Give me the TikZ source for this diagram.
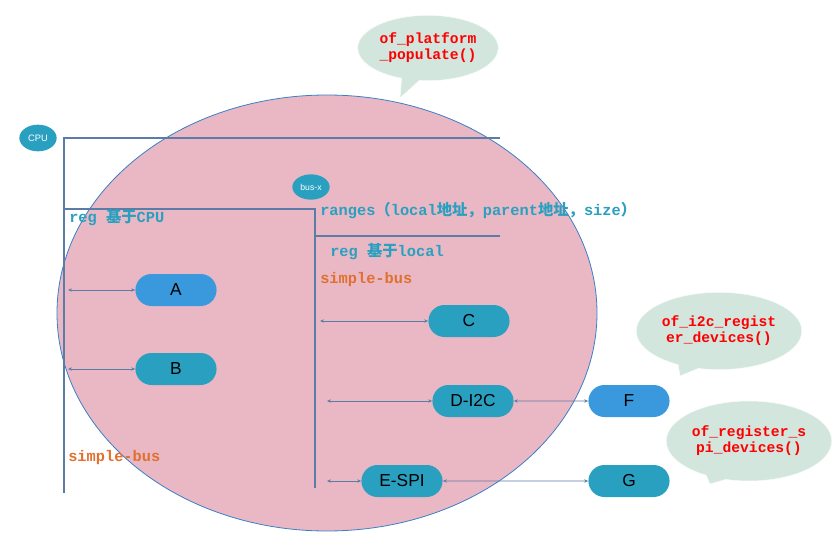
\documentclass[tikz,border=0pt]{standalone}
\usepackage{fontspec}
\setmainfont{Liberation Sans}
\newfontfamily\monof{Liberation Mono}
\newfontfamily\cjk{Noto Sans CJK SC}
\usetikzlibrary{shapes.callouts,shapes.geometric,shapes.misc,arrows.meta}
\definecolor{teal1}{HTML}{2AA0C0}
\definecolor{blue1}{HTML}{3A98DC}
\definecolor{pinkf}{HTML}{EAB8C4}
\definecolor{ringc}{HTML}{3A7FC8}
\definecolor{linec}{HTML}{5C7CA8}
\definecolor{orng}{HTML}{E07030}
\definecolor{bubf}{HTML}{D2E6DE}
\begin{document}
\begin{tikzpicture}[x=0.75pt,y=-0.75pt,
  dev/.style={rounded rectangle,minimum width=67.5pt,minimum height=24pt,text=black,font=\fontsize{13}{13}\selectfont},
  bus/.style={draw=linec,line width=0.9pt},
  con/.style={draw=linec,line width=0.5pt,{Stealth[length=3pt,width=2.5pt]}-{Stealth[length=3pt,width=2.5pt]}},
  lbl/.style={anchor=west,text=teal1,font=\monof\bfseries\fontsize{11.5}{12}\selectfont,inner sep=0pt},
  org/.style={anchor=west,text=orng,font=\monof\bfseries\fontsize{11.5}{12}\selectfont,inner sep=0pt},
  bub/.style={ellipse callout,fill=bubf,draw=white!85!bubf,align=center,text=red,font=\monof\bfseries\fontsize{11}{12}\selectfont,inner sep=1pt}]
\useasboundingbox (0,0) rectangle (836,542);
\fill[pinkf,draw=ringc,line width=0.6pt] (327,313) ellipse [x radius=270,y radius=218];
\node[ellipse,fill=teal1,text=white,font=\fontsize{7}{7}\selectfont,minimum width=28pt,minimum height=20pt,inner sep=0pt] (cpu) at (38,138) {CPU};
\node[ellipse,fill=teal1,text=white,font=\fontsize{6.5}{7}\selectfont,minimum width=28pt,minimum height=19pt,inner sep=0pt] (busx) at (311,187) {bus-x};
\coordinate (t1) at (64,138); \coordinate (t2) at (500,138); \coordinate (t3) at (64,493);
\draw[bus] (t2)--(t1)--(t3);
\coordinate (u1) at (64,209); \coordinate (u2) at (315,209); \coordinate (u3) at (315,488);
\draw[bus] (u1)--(u2)--(u3);
\coordinate (v1) at (315,236); \coordinate (v2) at (500,236);
\draw[bus] (v1)--(v2);
\node[lbl] (l1) at (69,218) {reg {\cjk 基于}CPU};
\node[lbl] (l2) at (320,211) {ranges{\cjk（}local{\cjk 地址，}parent{\cjk 地址，}size{\cjk ）}};
\node[lbl] (l3) at (330,252) {reg {\cjk 基于}local};
\node[org] (s1) at (320,280) {simple-bus};
\node[org] (s2) at (68,458) {simple-bus};
\node[dev,fill=blue1] (A) at (176,290) {A};
\node[dev,fill=teal1] (B) at (176,369) {B};
\node[dev,fill=teal1] (C) at (469,321) {C};
\node[dev,fill=teal1] (D) at (473,401) {D-I2C};
\node[dev,fill=blue1] (F) at (629,401) {F};
\node[dev,fill=teal1] (E) at (402,481) {E-SPI};
\node[dev,fill=teal1] (G) at (629,481) {G};
\coordinate (pa) at (68,290); \coordinate (pb) at (68,369);
\coordinate (pc) at (320,321); \coordinate (pd) at (327,401); \coordinate (pe) at (327,481);
\draw[con] (pa)--(A); \draw[con] (pb)--(B); \draw[con] (pc)--(C);
\draw[con] (pd)--(D); \draw[con] (D)--(F);
\draw[con] (pe)--(E); \draw[con] (E)--(G);
\node[bub,minimum width=97pt,minimum height=49pt,callout absolute pointer={(400,98)}] (b1) at (428,48) {of\_platform\\\_populate()};
\node[bub,minimum width=113pt,minimum height=58pt,callout absolute pointer={(680,376)}] (b2) at (719,331) {of\_i2c\_regist\\er\_devices()};
\node[bub,minimum width=113pt,minimum height=60pt,callout absolute pointer={(710,484)}] (b3) at (749,441) {of\_register\_s\\pi\_devices()};
\end{tikzpicture}
\end{document}
